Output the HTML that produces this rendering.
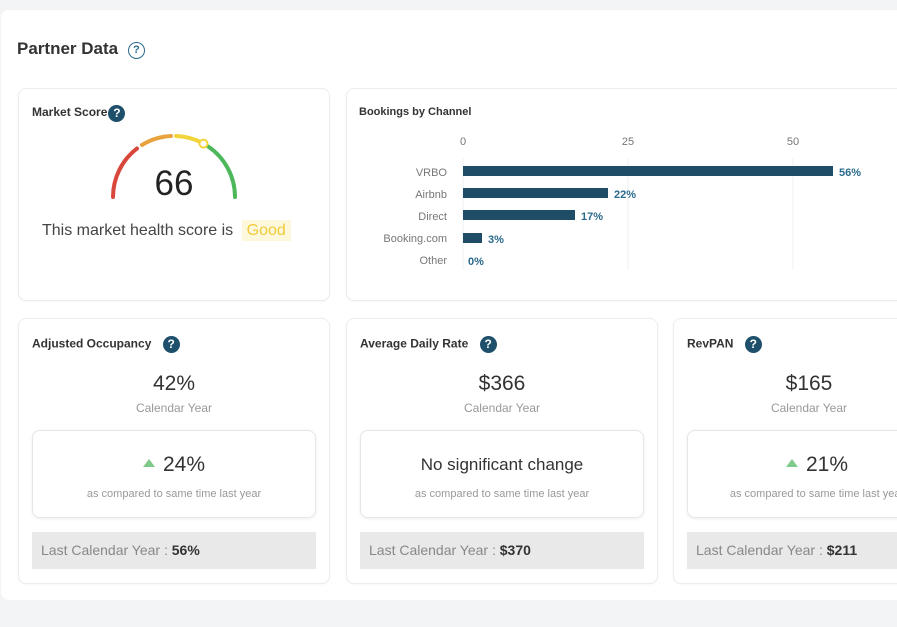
<!DOCTYPE html>
<html><head><style>
body{margin:0;width:897px;height:627px;background:#f3f4f6;font-family:"Liberation Sans",sans-serif;position:relative;overflow:hidden;color:#333}
.panel{position:absolute;left:1px;top:10px;width:910px;height:590px;background:#fff;border-radius:8px}
.card{position:absolute;background:#fff;border:1px solid #ececec;border-radius:8px;box-shadow:0 1px 2px rgba(0,0,0,.03)}
.t{position:absolute;font-weight:bold;font-size:12px;color:#333}
.q{display:inline-block;width:17px;height:17px;border-radius:50%;background:#1e4f6b;color:#fff;font-size:12px;text-align:center;line-height:17px;font-weight:bold;vertical-align:middle}
.big{position:absolute;width:100%;text-align:center;font-size:21px;color:#333}
.sub{position:absolute;width:100%;text-align:center;font-size:12px;color:#999}
.inner{position:absolute;left:13px;top:111px;width:282px;height:86px;border:1px solid #e6e6e6;border-radius:8px;box-shadow:0 1px 3px rgba(0,0,0,.07)}
.gray{position:absolute;left:13px;top:213px;width:284px;height:37px;background:#e9e9e9;font-size:14px;color:#888;line-height:37px;padding-left:9px;box-sizing:border-box}
.gray b{color:#333}
.tri{display:inline-block;width:0;height:0;border-left:6px solid transparent;border-right:6px solid transparent;border-bottom:8px solid #7fc98a;margin-right:8px;vertical-align:4px}
</style></head><body>
<div class="panel"></div>
<div style="position:absolute;left:17px;top:39px;font-size:17px;font-weight:bold;color:#333">Partner Data <span style="display:inline-block;width:15px;height:15px;border:1.5px solid #2a6a8c;border-radius:50%;color:#2a6a8c;font-size:11px;text-align:center;line-height:15px;margin-left:5px;vertical-align:1px">?</span></div>

<div class="card" style="left:18px;top:88px;width:310px;height:211px">
<div class="t" style="left:13px;top:16px">Market Score<span class="q" style="margin-left:1px;vertical-align:-1px">?</span></div>
<svg style="position:absolute;left:0;top:0" width="310" height="211">
<g fill="none" stroke-width="4" stroke-linecap="round" transform="translate(155,108)">
<path d="M-61,0 A61,61 0 0 1 -37,-48.5" stroke="#d9463b"/>
<path d="M-32,-52 A61,61 0 0 1 -3,-61" stroke="#e8a33d"/>
<path d="M2,-61 A61,61 0 0 1 29,-53.7" stroke="#f2d43a"/>
<path d="M34,-50.6 A61,61 0 0 1 61,0" stroke="#4db85b"/>
<circle cx="29.5" cy="-53.4" r="4" stroke="#f2d43a" stroke-width="2" fill="#fff"/>
</g>
<text x="155" y="106" text-anchor="middle" font-size="35" fill="#222" font-family="Liberation Sans">66</text>
</svg>
<div style="position:absolute;left:23px;top:133px;font-size:16px;color:#444">This market health score is <span style="background:#fdf8dc;color:#efcb3a;padding:2px 5px;margin-left:4px">Good</span></div>
</div>

<div class="card" style="left:346px;top:88px;width:580px;height:211px">
<div class="t" style="left:12px;top:17px;font-size:11px">Bookings by Channel</div>
<svg style="position:absolute;left:-346px;top:-88px" width="897" height="400" font-family="Liberation Sans">
<g font-size="11" fill="#777" text-anchor="middle"><text x="462" y="144">0</text><text x="627" y="144">25</text><text x="792" y="144">50</text></g>
<g stroke="#edf0f3"><line x1="462" y1="157" x2="462" y2="269"/><line x1="627" y1="157" x2="627" y2="269"/><line x1="792" y1="157" x2="792" y2="269"/></g>
<g font-size="11" fill="#777" text-anchor="end"><text x="446" y="175">VRBO</text><text x="446" y="197">Airbnb</text><text x="446" y="219">Direct</text><text x="446" y="241">Booking.com</text><text x="446" y="263">Other</text></g>
<g fill="#1f4d67"><rect x="462" y="165" width="370" height="10"/><rect x="462" y="187" width="145" height="10"/><rect x="462" y="209" width="112" height="10"/><rect x="462" y="232" width="19" height="10"/></g>
<g font-size="11" fill="#2a6a8c" font-weight="bold"><text x="838" y="175">56%</text><text x="613" y="197">22%</text><text x="580" y="219">17%</text><text x="487" y="242">3%</text><text x="467" y="264">0%</text></g>
</svg>
</div>

<div class="card" style="left:18px;top:318px;width:310px;height:264px">
<div class="t" style="left:13px;top:17px">Adjusted Occupancy <span class="q" style="margin-left:8px">?</span></div>
<div class="big" style="top:53px">42%</div><div class="sub" style="top:82px">Calendar Year</div>
<div class="inner"><div class="big" style="top:22px"><span class="tri"></span>24%</div><div class="sub" style="top:57px;font-size:11px">as compared to same time last year</div></div>
<div class="gray">Last Calendar Year : <b>56%</b></div>
</div>

<div class="card" style="left:346px;top:318px;width:310px;height:264px">
<div class="t" style="left:13px;top:17px">Average Daily Rate <span class="q" style="margin-left:8px">?</span></div>
<div class="big" style="top:53px">$366</div><div class="sub" style="top:82px">Calendar Year</div>
<div class="inner"><div class="big" style="top:24px;font-size:17px">No significant change</div><div class="sub" style="top:57px;font-size:11px">as compared to same time last year</div></div>
<div class="gray">Last Calendar Year : <b>$370</b></div>
</div>

<div class="card" style="left:673px;top:318px;width:310px;height:264px">
<div class="t" style="left:13px;top:17px">RevPAN <span class="q" style="margin-left:8px">?</span></div>
<div class="big" style="top:53px;left:-20px">$165</div><div class="sub" style="top:82px;left:-20px">Calendar Year</div>
<div class="inner"><div class="big" style="top:22px;left:-12px"><span class="tri"></span>21%</div><div class="sub" style="top:57px;font-size:11px;left:-12px">as compared to same time last year</div></div>
<div class="gray">Last Calendar Year : <b>$211</b></div>
</div>
</body></html>
